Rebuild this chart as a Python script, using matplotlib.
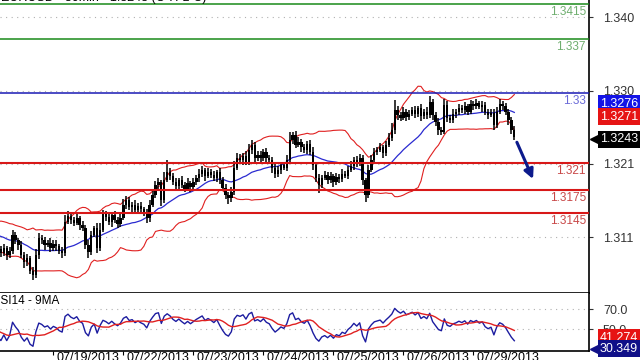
# EURUSD hourly chart with Bollinger bands, S/R levels and RSI panel
import numpy as np
import pandas as pd
import matplotlib
matplotlib.use("Agg")
import matplotlib.pyplot as plt
from matplotlib import transforms

plt.rcParams['font.family'] = ['Liberation Sans', 'DejaVu Sans']

# closes in pips above 1.3000 (bars before the visible window, only for the indicators)
warmup_close = [118, 124, 121, 128, 125, 131, 127, 133, 129, 126, 132, 128, 124, 127, 122, 125, 130,
                126, 121, 124, 119, 122, 127, 123, 118, 114, 117, 112, 108, 111, 105, 102, 106, 99]

# visible hourly closes, pips above 1.3000
close_pips = [94, 100, 91, 97, 117, 110, 104, 91, 82, 87, 71, 65, 91, 113, 110, 104, 107, 100, 106, 103,
              97, 94, 134, 142, 136, 133, 139, 130, 126, 104, 95, 117, 126, 100, 124, 144, 140, 134, 143, 136,
              131, 139, 156, 162, 153, 156, 149, 154, 150, 147, 139, 156, 169, 182, 185, 162, 188, 198, 193, 185,
              180, 188, 182, 177, 184, 179, 185, 191, 196, 201, 193, 198, 195, 191, 198, 188, 178, 169, 165, 173,
              204, 216, 214, 219, 211, 227, 233, 216, 220, 216, 224, 217, 214, 204, 196, 201, 207, 204, 214, 240,
              246, 233, 237, 230, 227, 235, 224, 207, 191, 182, 191, 194, 188, 193, 185, 192, 189, 196, 193, 201,
              206, 214, 209, 216, 188, 169, 201, 214, 224, 227, 230, 223, 233, 242, 253, 278, 272, 268, 276, 269,
              273, 278, 273, 281, 270, 276, 272, 289, 272, 263, 253, 250, 285, 268, 265, 273, 276, 281, 278, 283,
              276, 286, 283, 287, 282, 285, 276, 272, 275, 259, 276, 286, 283, 276, 265, 253, 243]

wick_up = [4, 6, 3, 5, 7, 4, 3, 5, 4, 6, 3, 5, 8, 6, 4, 5, 3, 6, 4, 5,
           3, 4, 9, 6, 5, 4, 6, 3, 5, 4, 6, 5, 3, 7, 8, 5, 4, 6, 3, 5,
           4, 6, 8, 5, 4, 3, 6, 4, 5, 3, 4, 6, 7, 5, 6, 3, 10, 16, 5, 4,
           6, 3, 5, 4, 6, 3, 5, 4, 6, 5, 3, 6, 4, 5, 3, 6, 4, 5, 3, 6,
           9, 7, 5, 4, 6, 8, 7, 4, 5, 6, 4, 5, 3, 4, 6, 5, 3, 4, 6, 10,
           4, 5, 6, 4, 5, 3, 4, 6, 4, 5, 3, 6, 4, 5, 3, 5, 4, 6, 3, 5,
           6, 4, 5, 6, 4, 3, 7, 6, 5, 4, 6, 3, 5, 7, 8, 13, 5, 4, 6, 3,
           5, 4, 6, 3, 5, 4, 6, 7, 3, 4, 5, 3, 8, 5, 4, 6, 3, 5, 4, 6,
           3, 5, 4, 6, 3, 5, 4, 3, 5, 4, 6, 7, 4, 5, 3, 4, 5]

wick_dn = [5, 4, 6, 3, 4, 5, 6, 4, 7, 5, 4, 6, 3, 5, 4, 6, 3, 5, 4, 6,
           5, 6, 4, 3, 5, 4, 3, 6, 4, 5, 7, 4, 3, 6, 4, 3, 5, 4, 6, 3,
           5, 4, 3, 5, 4, 6, 3, 5, 4, 6, 7, 5, 3, 4, 6, 8, 4, 3, 5, 4,
           3, 6, 4, 5, 3, 6, 4, 3, 5, 4, 6, 3, 5, 4, 6, 5, 4, 6, 8, 5,
           4, 3, 5, 6, 4, 3, 5, 7, 4, 5, 3, 6, 4, 7, 6, 4, 5, 3, 4, 3,
           5, 4, 3, 6, 4, 5, 4, 6, 5, 11, 4, 3, 5, 4, 6, 3, 5, 4, 3, 4,
           3, 5, 4, 3, 6, 9, 4, 3, 5, 4, 3, 6, 4, 3, 4, 5, 6, 4, 3, 5,
           4, 3, 5, 4, 6, 3, 5, 4, 6, 5, 7, 4, 3, 5, 4, 3, 5, 4, 3, 5,
           4, 3, 5, 4, 3, 6, 4, 5, 3, 7, 4, 3, 5, 4, 6, 5, 4]

first_bar = "2013-07-18 06:00"

levels = [1.3415, 1.337, 1.33, 1.321, 1.3175, 1.3145]
level_text = ["1.3415", "1.337", "1.33", "1.321", "1.3175", "1.3145"]
level_color = ["#1a8a1a", "#1a8a1a", "#1a1ab4", "#d81818", "#d81818", "#d81818"]
level_text_color = ["#6fae6f", "#6fae6f", "#6a6ad8", "#c84848", "#c84848", "#c84848"]

price_ticks = [1.3114, 1.3209, 1.3303, 1.3398]
rsi_ticks = [50, 70]

price_tag_text = ["1.3276", "1.3271", "1.3243"]
price_tag_value = [1.3276, 1.3271, 1.3243]
rsi_tag_text = ["41.274", "30.349"]
rsi_tag_value = [41.274, 30.349]

arrow_from = (176.5, 1.3240)
arrow_to = (182.8, 1.3186)

# ---- build series ----
c_all = np.array(warmup_close + close_pips) / 10000.0 + 1.3
n_w = len(warmup_close)
xs_all = np.arange(len(c_all)) - n_w
o_all = np.r_[c_all[0], c_all[:-1]]

c = c_all[n_w:]
o = o_all[n_w:]
xs = xs_all[n_w:]
hi = np.maximum(o, c) + np.array(wick_up) / 10000.0
lo = np.minimum(o, c) - np.array(wick_dn) / 10000.0

s = pd.Series(c_all)
mid = s.rolling(20).mean()
sd = s.rolling(20).std(ddof=0)
bb_up = mid + 2 * sd
bb_dn = mid - 2 * sd

delta = s.diff()
gain = delta.clip(lower=0).ewm(alpha=1 / 14, adjust=False).mean()
loss = (-delta.clip(upper=0)).ewm(alpha=1 / 14, adjust=False).mean()
rsi = 100 - 100 / (1 + gain / loss)
rsi_ma = rsi.rolling(9).mean()

times = pd.date_range(first_bar, periods=400, freq="h")
times = times[times.dayofweek < 5][:len(close_pips)]
day_start = np.where(times.hour == 0)[0]
day_labels = [t.strftime("%m/%d/%Y") for t in times[day_start]]

# ---- figure ----
fig = plt.figure(figsize=(6.4, 3.6), dpi=100)
ax = fig.add_axes([0, 67 / 360, 589 / 640, 293 / 360])
ax2 = fig.add_axes([0, 9 / 360, 589 / 640, 58 / 360], sharex=ax)

ax.set_xlim(-0.3, 201.6)
ax.set_ylim(1.30422, 1.34203)

ax.plot(xs_all, bb_up, color="#e02020", lw=0.8, zorder=2)
ax.plot(xs_all, bb_dn, color="#e02020", lw=0.8, zorder=2)
ax.plot(xs_all, mid, color="#2a2ad0", lw=0.9, zorder=2)

ax.vlines(xs, lo, hi, color="black", lw=1.1, zorder=3)
ax.bar(xs, np.maximum(np.abs(c - o), 0.0001), bottom=np.minimum(o, c), width=0.8,
       color="black", zorder=3)

for v, t, lc, tc in zip(levels, level_text, level_color, level_text_color):
    ax.axhline(v, color=lc, lw=1.5 if lc == "#d81818" else 1.1, zorder=4)
    ax.annotate(t, xy=(1, v), xycoords=ax.get_yaxis_transform(), xytext=(-3, -2),
                textcoords="offset pixels", ha="right", va="top", color=tc, fontsize=8.5)

ax.annotate("", xy=arrow_to, xytext=arrow_from,
            arrowprops=dict(arrowstyle="-|>", color="#0c1a8c", lw=2.2, mutation_scale=14), zorder=5)

ax.yaxis.tick_right()
ax.set_yticks(price_ticks)
ax.set_yticklabels(["%.3f" % v for v in price_ticks])
ax.tick_params(axis="y", direction="out", length=3, pad=7, labelsize=9, colors="#333333")
ax.tick_params(axis="x", length=0, labelbottom=False)
ax.grid(axis="y", linestyle=(0, (1, 4)), color="#b0b0b0", lw=0.8)
for side in ["left", "top"]:
    ax.spines[side].set_visible(False)
ax.spines["right"].set_linewidth(1.2)
ax.spines["bottom"].set_linewidth(1.2)


def tag(axis, text, v, color, dy, pointer=False):
    axis.annotate(text, xy=(1, v), xycoords=axis.get_yaxis_transform(), xytext=(11, dy),
                  textcoords="offset pixels", ha="left", va="center", color="white", fontsize=9,
                  bbox=dict(boxstyle="square,pad=0.2", fc=color, ec="none"), annotation_clip=False)
    if pointer:
        tr = transforms.offset_copy(axis.get_yaxis_transform(), fig=fig, x=6, y=dy, units="dots")
        axis.plot([1], [v], marker="<", ms=7, color=color, transform=tr, clip_on=False)


tag(ax, price_tag_text[0], price_tag_value[0], "#1414e6", 8)
tag(ax, price_tag_text[1], price_tag_value[1], "#e61414", -1)
tag(ax, price_tag_text[2], price_tag_value[2], "black", -2, pointer=True)

fig.text(0.002, 1 + 2 / 360, "EURUSD - 30min - 1.3243 (O-H-L-C)", fontsize=9, va="center")

# ---- RSI panel ----
ax2.plot(xs_all, rsi, color="#1c1ca0", lw=1.0)
ax2.plot(xs_all, rsi_ma, color="#e02020", lw=1.0)
ax2.set_ylim(28, 86)
ax2.yaxis.tick_right()
ax2.set_yticks(rsi_ticks)
ax2.set_yticklabels(["%.1f" % v for v in rsi_ticks])
ax2.tick_params(axis="y", direction="out", length=3, pad=7, labelsize=9, colors="#333333")
ax2.grid(axis="y", linestyle=(0, (1, 4)), color="#b0b0b0", lw=0.8)
ax2.set_xticks(xs[day_start])
ax2.set_xticklabels(day_labels)
ax2.tick_params(axis="x", direction="out", length=3, pad=-2.5, labelsize=9)
shift = transforms.ScaledTranslation(3 / 100, 0, fig.dpi_scale_trans)
for lab in ax2.get_xticklabels():
    lab.set_ha("left")
    lab.set_transform(lab.get_transform() + shift)
for side in ["left", "top"]:
    ax2.spines[side].set_visible(False)
ax2.spines["right"].set_linewidth(1.2)
ax2.spines["bottom"].set_linewidth(1.2)
ax2.text(0, 1, "RSI14 - 9MA", transform=ax2.transAxes + transforms.ScaledTranslation(-8 / 100, -2 / 100, fig.dpi_scale_trans),
         fontsize=8.5, va="top", ha="left")

tag(ax2, rsi_tag_text[0], rsi_tag_value[0], "#e61414", 0)
tag(ax2, rsi_tag_text[1], rsi_tag_value[1], "#101088", 0, pointer=True)

fig.savefig("out.png", dpi=100)
